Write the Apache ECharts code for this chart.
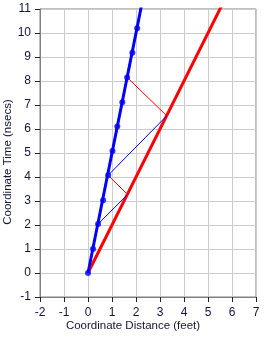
<!DOCTYPE html>
<html><head><meta charset="utf-8">
<script src="https://cdn.jsdelivr.net/npm/echarts@6/dist/echarts.min.js"></script>
<style>html,body{margin:0;padding:0;background:#fff}#c{width:266px;height:337px}</style>
</head><body><div id="c"></div>
<script>
const xTitle = 'Coordinate Distance (feet)';
const yTitle = 'Coordinate Time (nsecs)';
const blueX = [0, 0.21, 0.42, 0.63, 0.84, 1.02, 1.22, 1.43, 1.63, 1.85, 2.05];
const blueT = [0, 1.0, 2.04, 3.03, 4.07, 5.08, 6.1, 7.11, 8.15, 9.18, 10.2];
const blueLineX = [0, 2.4];
const blueLineT = [0, 12];
const redLineX = [0, 6];
const redLineT = [0, 12];
const blueRayX = [[0.42, 1.65], [0.84, 3.28]];
const blueRayT = [[2.04, 3.27], [4.07, 6.55]];
const redRayX = [[1.65, 0.84], [3.28, 1.63]];
const redRayT = [[3.27, 4.07], [6.55, 8.15]];

const txt = '#14143c';
const font = 'Liberation Sans';
const pairs = (xs, ts) => xs.map((x, i) => [x, ts[i]]);
const series = [];
series.push({type:'line', data: pairs(redLineX, redLineT), symbol:'none', lineStyle:{color:'#ff0000', width:3}, clip:true, z:2});
series.push({type:'line', data: pairs(blueLineX, blueLineT), symbol:'none', lineStyle:{color:'#0000ff', width:3}, clip:true, z:3});
blueRayX.forEach((xs, i) => series.push({type:'line', data: pairs(xs, blueRayT[i]), symbol:'none', lineStyle:{color:'#0000ff', width:1}, z:4}));
redRayX.forEach((xs, i) => series.push({type:'line', data: pairs(xs, redRayT[i]), symbol:'none', lineStyle:{color:'#ff0000', width:1}, z:4}));
series.push({type:'scatter', data: pairs(blueX, blueT), symbol:'circle', symbolSize:6, itemStyle:{color:'#0000ff'}, z:5});

const axisCommon = {
  type:'value', interval:1,
  axisLine:{show:true, onZero:false, lineStyle:{color:'#808080', width:1}},
  axisTick:{show:true, inside:false, length:5, lineStyle:{color:'#202020', width:1}},
  axisLabel:{color:txt, fontFamily:font, fontSize:12},
  splitLine:{show:true, lineStyle:{color:'#cccccc', width:1}}
};
const chart = echarts.init(document.getElementById('c'), null, {renderer:'canvas'});
chart.setOption({
  animation:false,
  backgroundColor:'#ffffff',
  grid:{left:40, top:9, width:216, height:288, show:true, borderColor:'#808080', borderWidth:1, backgroundColor:'transparent'},
  xAxis:Object.assign({}, axisCommon, {min:-2, max:7, axisLabel:Object.assign({}, axisCommon.axisLabel, {margin:10})}),
  yAxis:Object.assign({}, axisCommon, {min:-1, max:11, axisLabel:Object.assign({}, axisCommon.axisLabel, {margin:9})}),
  series: series,
  graphic:[
    {type:'text', x:133, y:320, style:{text:xTitle, fill:txt, font:'11.5px "Liberation Sans"', align:'center', verticalAlign:'top'}},
    {type:'text', x:2, y:162, rotation:Math.PI/2, style:{text:yTitle, fill:txt, font:'11.5px "Liberation Sans"', align:'center', verticalAlign:'top'}}
  ]
});
</script></body></html>
